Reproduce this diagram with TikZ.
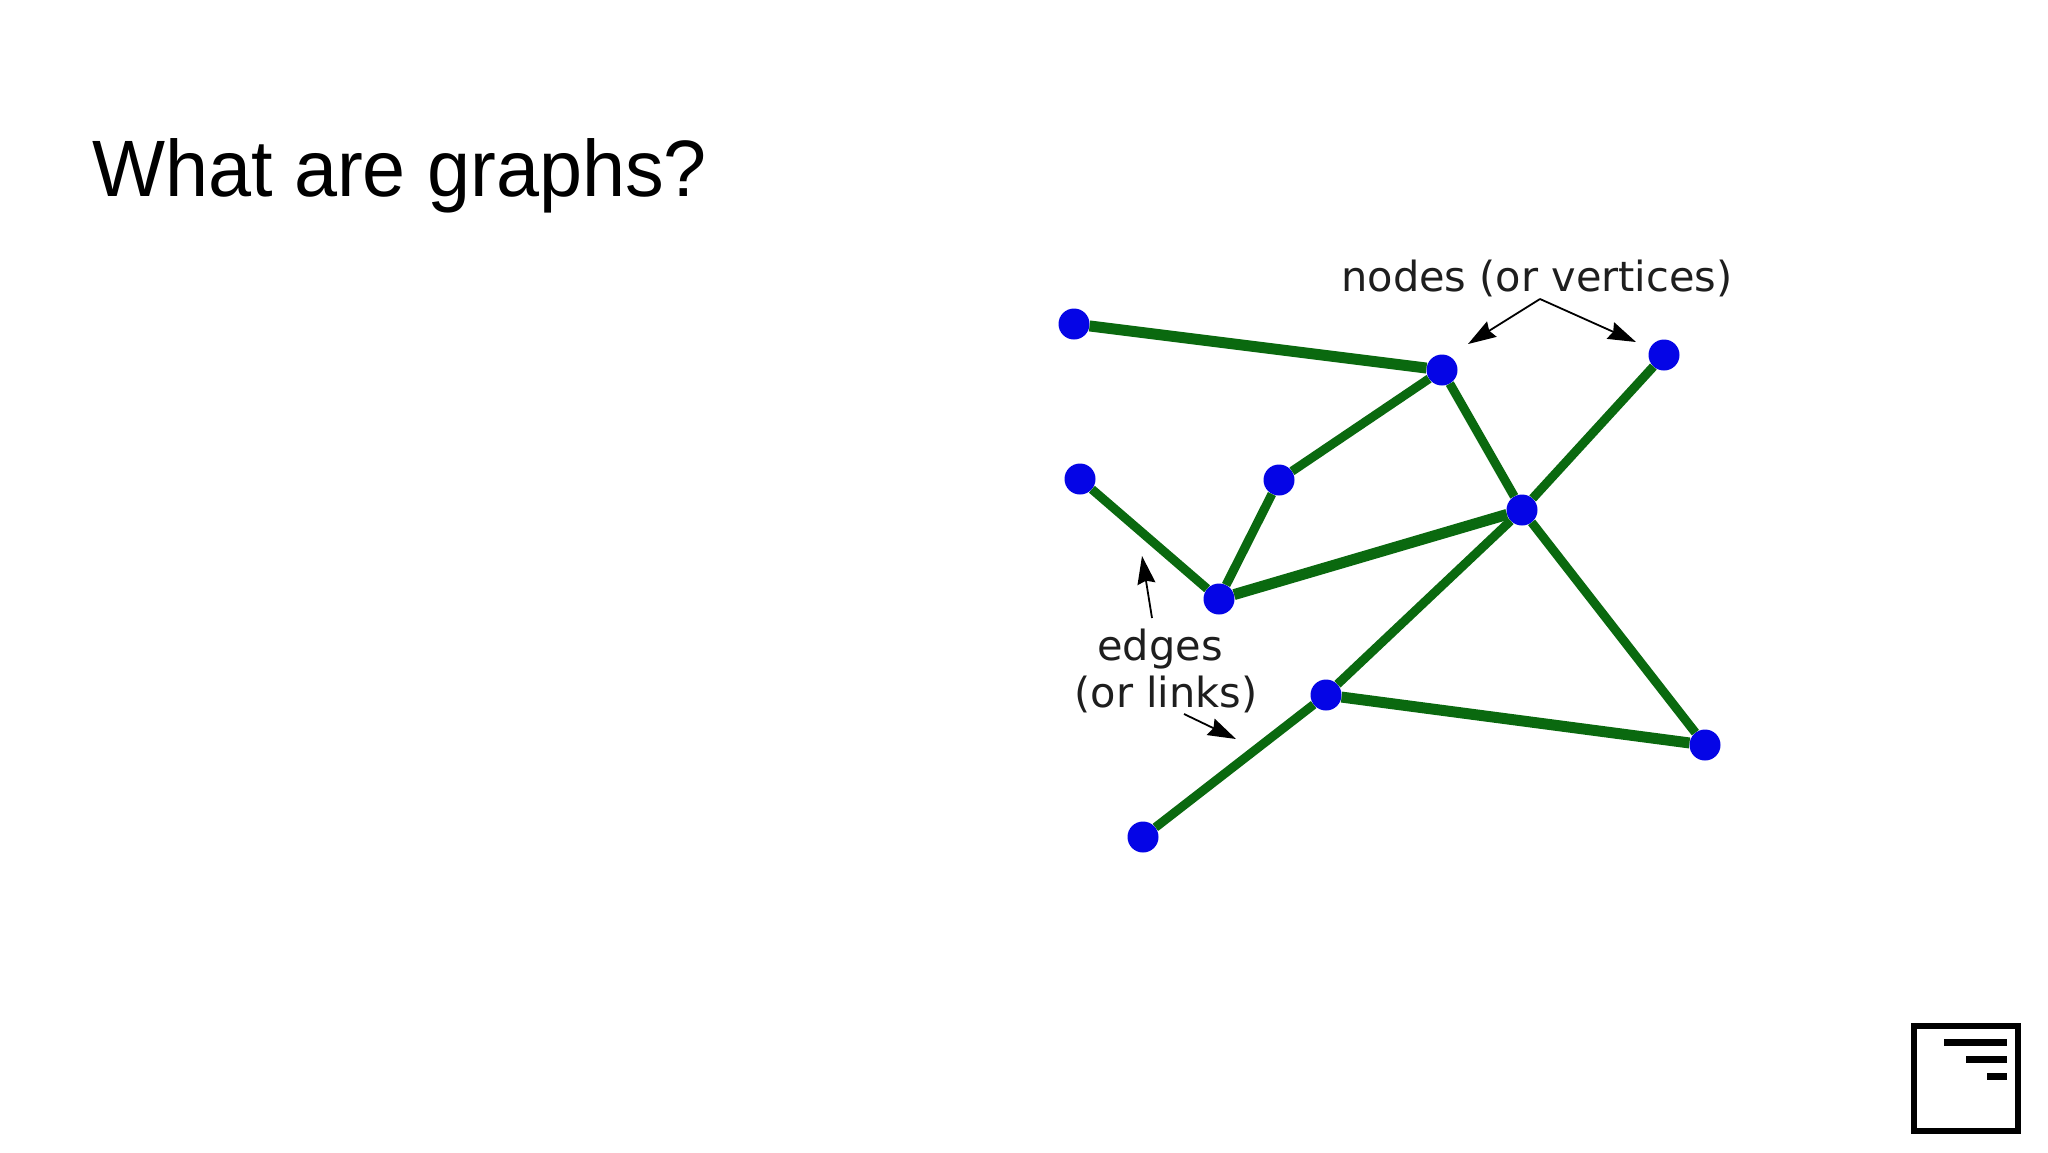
\documentclass[tikz,border=0pt]{standalone}
\usepackage{fontspec}
\setmainfont{Liberation Sans}
\newfontfamily\titlefont[FakeStretch=0.967]{Liberation Sans}
\newfontfamily\labelfont{DejaVu Sans}
\usetikzlibrary{arrows.meta}
\definecolor{edgegreen}{RGB}{10,105,15}
\definecolor{vertexblue}{RGB}{5,5,230}
\definecolor{labelgray}{RGB}{30,30,30}
\tikzset{
  vertex/.style={circle,fill=vertexblue,inner sep=0pt,minimum size=31pt},
  link/.style={edgegreen,line width=9pt},
  thicklink/.style={edgegreen,line width=11pt},
  pointer/.style={-{Stealth[length=28pt,width=18pt,inset=3pt]},black,line width=1.8pt},
  caption/.style={font=\labelfont\fontsize{41.5}{48}\selectfont,text=labelgray,inner sep=0pt}
}

\begin{document}
\begin{tikzpicture}[x=1pt,y=-1pt]
              \useasboundingbox[fill=white] (0,0) rectangle (2048,1152);

              \node[anchor=base west,inner sep=0pt,font=\titlefont\fontsize{80}{96}\selectfont] (title) at (92,196) {What are graphs?};

              \node[vertex] (v1) at (1074,324) {};
              \node[vertex] (v2) at (1442,370) {};
              \node[vertex] (v3) at (1664,355) {};
              \node[vertex] (v4) at (1080,479) {};
              \node[vertex] (v5) at (1279,480) {};
              \node[vertex] (v6) at (1522,510) {};
              \node[vertex] (v7) at (1219,599) {};
              \node[vertex] (v8) at (1326,695) {};
              \node[vertex] (v9) at (1705,745) {};
              \node[vertex] (v10) at (1143,837) {};

              \draw[thicklink] (v1) -- (v2);
              \draw[link] (v2) -- (v5);
              \draw[link] (v2) -- (v6);
              \draw[link] (v3) -- (v6);
              \draw[link] (v4) -- (v7);
              \draw[link] (v5) -- (v7);
              \draw[thicklink] (v7) -- (v6);
              \draw[link] (v6) -- (v8);
              \draw[link] (v6) -- (v9);
              \draw[thicklink] (v8) -- (v9);
              \draw[link] (v8) -- (v10);

              \node[caption,anchor=base] (nodescap) at (1537,291) {nodes (or vertices)};
              \node[caption,anchor=base] (edgescap) at (1160,660) {edges};
              \node[caption,anchor=base] (linkscap) at (1166,707) {(or links)};

              \coordinate (apex) at (1540,299);
              \coordinate (nodetipa) at (1468,344);
              \coordinate (nodetipb) at (1636,342);
              \draw[pointer] (apex) -- (nodetipa);
              \draw[pointer] (apex) -- (nodetipb);

              \coordinate (edgestart) at (1152,618);
              \coordinate (edgetip) at (1142,556);
              \draw[pointer] (edgestart) -- (edgetip);

              \coordinate (linkstart) at (1184,714);
              \coordinate (linktip) at (1236,739);
              \draw[pointer] (linkstart) -- (linktip);

              \draw[line width=6pt] (1914,1026) rectangle (2018,1131);
              \fill (1944,1039) rectangle (2007,1046);
              \fill (1966,1056) rectangle (2007,1063);
              \fill (1987,1073) rectangle (2007,1080);
            \end{tikzpicture}
\end{document}
